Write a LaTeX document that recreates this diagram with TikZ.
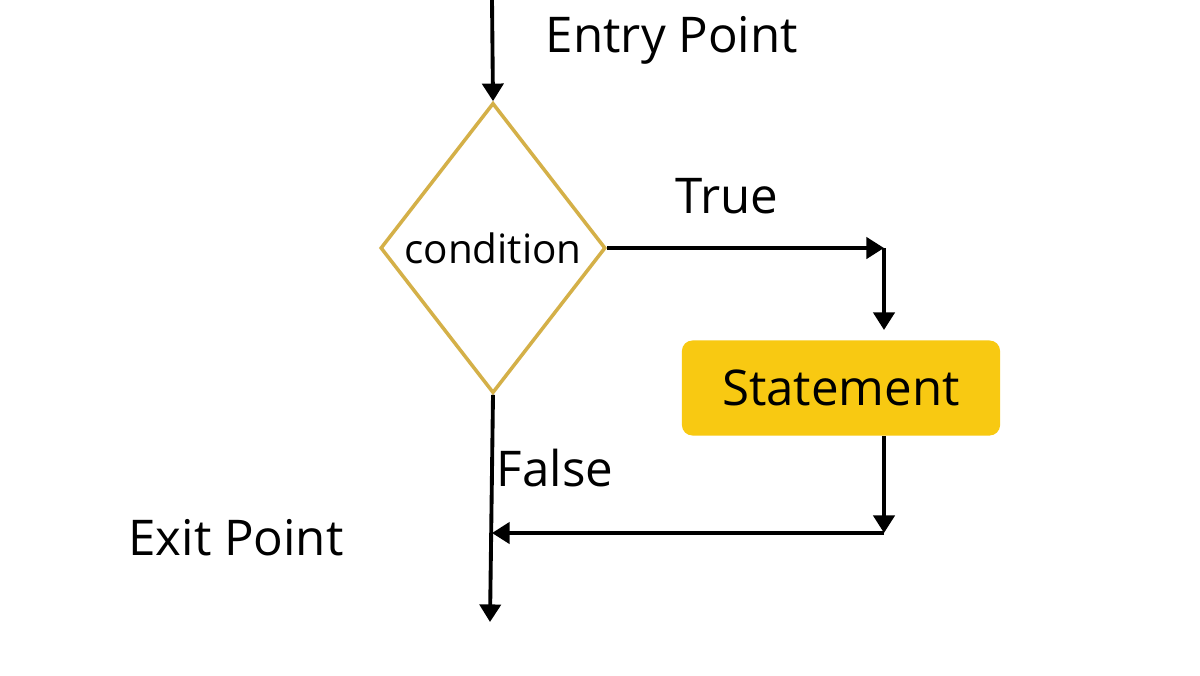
\documentclass[tikz,border=0pt]{standalone}
\usepackage{fontspec}
\setmainfont{Open Sans}
\usetikzlibrary{shapes.geometric,arrows.meta}
\definecolor{gold}{HTML}{D4B048}
\definecolor{stmt}{HTML}{F8C912}
\begin{document}
\begin{tikzpicture}[x=0.01cm,y=-0.01cm,
  conn/.style={line width=1.1pt,-{Triangle[length=5pt,width=6pt]}},
  plain/.style={line width=1.1pt},
  lbl/.style={font=\fontsize{14}{16}\selectfont,inner sep=0pt}]
\useasboundingbox (0,0) rectangle (1200,675);
\fill[white] (0,0) rectangle (1200,675);
\coordinate (top) at (492,0);
\node[diamond,draw=gold,line width=1pt,minimum width=224\pgflinewidth,inner sep=0pt,
  minimum width=6.3cm/2.8,minimum height=2.9cm,aspect=0.77] (cond) at (493,248) {};
\node[font=\fontsize{11.5}{13}\selectfont] at (cond) {condition};
\draw[conn] (top) -- (cond.north);
\node[lbl] (entry) at (672,40) {Entry Point};
\node[fill=stmt,rounded corners=3pt,minimum width=3.18cm,minimum height=0.95cm,
  font=\fontsize{14}{16}\selectfont] (st) at (841,388) {Statement};
\coordinate (c1) at (884,248);
\draw[conn] (cond.east) -- (c1);
\draw[conn] (c1) -- (884,330);
\node[lbl] (true) at (727,196) {True};
\coordinate (c2) at (884,533);
\draw[conn] (st.south -| c2) -- (c2);
\coordinate (c3) at (492,533);
\draw[conn] (c2) -- (c3);
\coordinate (ex) at (490,622);
\draw[conn] (cond.south) -- (ex);
\node[lbl] (false) at (555,468) {False};
\node[lbl] (exit) at (236,538) {Exit Point};
\end{tikzpicture}
\end{document}
